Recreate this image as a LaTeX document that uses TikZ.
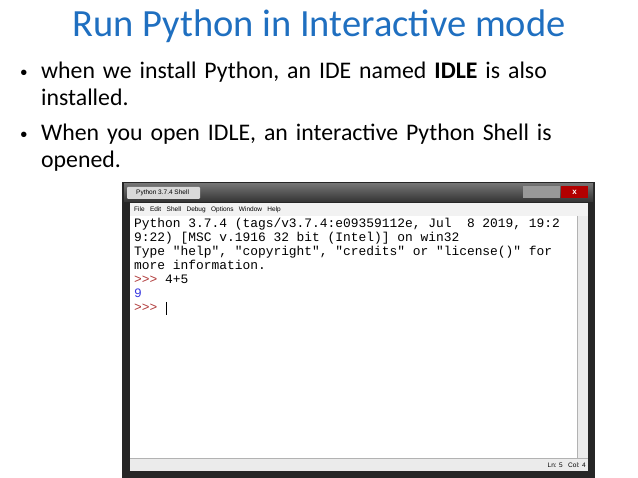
\documentclass[tikz,border=0pt]{standalone}
\usepackage{fontspec}
\setmainfont{Carlito}
\newfontfamily\monof{Liberation Mono}
\newfontfamily\uif{Liberation Sans}
\definecolor{ttl}{HTML}{1F6FC0}
\definecolor{prm}{HTML}{B03A3A}
\definecolor{outc}{HTML}{3A3AE0}
\begin{document}
\begin{tikzpicture}[x=1pt,y=-1pt,
  bul/.style={anchor=north west,inner sep=0pt,font=\fontsize{23.8}{27}\selectfont,text width=560pt,align=left},
  dot/.style={inner sep=0pt,font=\uif\fontsize{20}{20}\selectfont},
  code/.style={anchor=base west,inner sep=0pt,font=\monof\fontsize{12.9}{14}\selectfont},
  ui/.style={inner sep=0pt,font=\uif\fontsize{6.5}{7}\selectfont}]
\useasboundingbox (0,0) rectangle (638,478);
\node[inner sep=0pt,text=ttl,font=\fontsize{38.5}{44}\selectfont] (title) at (319,26) {Run Python in Interactive mode};
\node[dot] (b1) at (24,75) {•};
\node[bul] (t1) at (41,62) {\hyphenpenalty=10000 when we install Python, an IDE named \textbf{IDLE} is also\\installed.};
\node[dot] (b2) at (24,137) {•};
\node[bul] (t2) at (41,124) {\hyphenpenalty=10000 When you open IDLE, an interactive Python Shell is\\opened.};
% window
\fill[black!85] (122,182) rectangle (595,478);
\shade[top color=black!55,bottom color=black!80] (124,184) rectangle (593,202);
\fill[black!15,rounded corners=1pt] (127,187) rectangle (200,199);
\node[ui,anchor=west] (wt) at (136,193) {Python 3.7.4 Shell};
\fill[black!40] (523,186) rectangle (560,198);
\fill[red!70!black] (561,186) rectangle (588,198);
\node[ui,text=white,font=\uif\bfseries\fontsize{8}{8}\selectfont] (xx) at (574.5,192) {x};
\fill[black!5] (130,203) rectangle (588,216);
\node[ui,anchor=west] (menu) at (134,210) {File\ \ \ Edit\ \ \ Shell\ \ \ Debug\ \ \ Options\ \ \ Window\ \ \ Help};
\fill[white] (130,216) rectangle (588,470);
\fill[black!8] (577,216) rectangle (588,458);
\draw[black!30] (577,216) -- (577,458);
\fill[black!8] (130,458) rectangle (588,471);
\draw[black!30] (130,458) -- (588,458);
\node[ui,anchor=east] (st) at (586,465) {Ln: 5\ \ \ Col: 4};
\node[code] (l1) at (134,228) {Python 3.7.4 (tags/v3.7.4:e09359112e, Jul\ \ 8 2019, 19:2};
\node[code] (l2) at (134,242) {9:22) [MSC v.1916 32 bit (Intel)] on win32};
\node[code] (l3) at (134,256) {Type "help", "copyright", "credits" or "license()" for};
\node[code] (l4) at (134,270) {more information.};
\node[code] (l5) at (134,284) {\textcolor{prm}{>{}>{}>} 4+5};
\node[code,text=outc] (l6) at (134,298) {9};
\node[code,text=prm] (l7) at (134,312) {>{}>{}>};
\draw[line width=1pt] (166,302) -- (166,315);
\end{tikzpicture}
\end{document}
